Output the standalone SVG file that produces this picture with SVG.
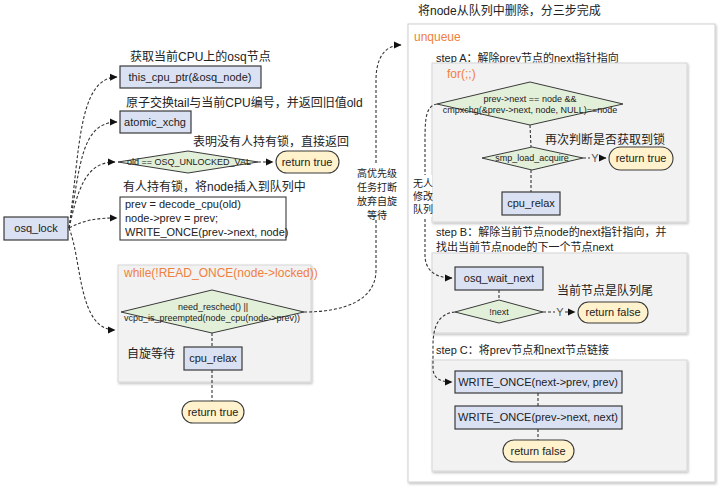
<svg xmlns="http://www.w3.org/2000/svg" width="720" height="488" viewBox="0 0 720 488">
<defs>
<filter id="sh" x="-5%" y="-5%" width="110%" height="110%"><feDropShadow dx="1" dy="1.5" stdDeviation="1" flood-color="#000" flood-opacity="0.25"/></filter>
<marker id="ar" markerWidth="8" markerHeight="8" refX="7" refY="4" orient="auto" markerUnits="userSpaceOnUse"><path d="M0,0.5 L7.5,4 L0,7.5 Z" fill="#111"/></marker>
<style>
text{font-family:"Liberation Sans","Noto Sans CJK SC",sans-serif;fill:#222;}
.box{fill:#dae1f3;stroke:#3a3a3a;stroke-width:1.2;}
.dia{fill:#e2efd9;stroke:#3a3a3a;stroke-width:1;}
.term{fill:#fff2cc;stroke:#3a3a3a;stroke-width:1.1;}
.wbox{fill:#fff;stroke:#3a3a3a;stroke-width:1.1;}
.cont{fill:#f2f2f2;stroke:#d6d6d6;stroke-width:1;}
.outer{fill:#fff;stroke:#cfcfcf;stroke-width:1;}
.t11{font-size:11px;}
.t12{font-size:12px;}
.t9{font-size:9px;}
.t10{font-size:10px;}
.org{fill:#f08040;font-size:12px;}
.c{text-anchor:middle;}
.dl{fill:none;stroke:#333;stroke-width:1.1;stroke-dasharray:3,2;}
.lbl{font-size:11px;fill:#555;}
</style>
</defs>

<text class="t12" x="418" y="15">将node从队列中删除，分三步完成</text>

<g id="unqueue">
<rect class="outer" x="408" y="24" width="307" height="458" filter="url(#sh)"/>
<text class="org" x="414" y="41">unqueue</text>
<text class="t11" x="436" y="62">step A：解除prev节点的next指针指向</text>
<text class="t11" x="436" y="236">step B：解除当前节点node的next指针指向，并</text>
<text class="t11" x="436" y="251">找出当前节点node的下一个节点next</text>
<text class="t11" x="436" y="354">step C：将prev节点和next节点链接</text>
</g>

<g id="forloop">
<rect class="cont" x="432" y="63" width="255" height="159" filter="url(#sh)"/>
<text class="org" x="447" y="78">for(;;)</text>
</g>
<g id="stepB">
<rect class="cont" x="432" y="253" width="255" height="80" filter="url(#sh)"/>
</g>
<g id="stepC">
<rect class="cont" x="432" y="360" width="255" height="111" filter="url(#sh)"/>
</g>
<g id="while">
<rect class="cont" x="118" y="265" width="193" height="117" filter="url(#sh)"/>
<text class="org" x="124" y="277">while(!READ_ONCE(node-&gt;locked))</text>
</g>

<g id="connectors">
<path class="dl" d="M69,228 C80,150 78,78 117,77" marker-end="url(#ar)"/>
<path class="dl" d="M69,228 C80,170 80,122 117,122" marker-end="url(#ar)"/>
<path class="dl" d="M69,228 C78,190 85,162 115,162" marker-end="url(#ar)"/>
<path class="dl" d="M69,228 C85,220 95,218 117,218" marker-end="url(#ar)"/>
<path class="dl" d="M69,228 C82,260 78,330 115,330" marker-end="url(#ar)"/>
<path class="dl" d="M258,162 L273,162" marker-end="url(#ar)"/>
<path class="dl" d="M304,312 C345,312 376,300 376,270 L376,80 C376,58 385,45 401,45" marker-end="url(#ar)"/>
<path class="dl" d="M212,333 L212,347"/>
<path class="dl" d="M212,370 L212,401"/>
<path class="dl" d="M530,125 L531,147"/>
<path class="dl" d="M531,170 L531,192"/>
<path class="dl" d="M583,158 L590,158 M600,158 L606,158" marker-end="url(#ar)"/>
<path class="dl" d="M437,104 C426,106 425,118 425,140 L425,255 C425,270 435,278 452,278" marker-end="url(#ar)"/>
<path class="dl" d="M499,290 L499,300"/>
<path class="dl" d="M543,312 L555,312 M565,312 L575,312" marker-end="url(#ar)"/>
<path class="dl" d="M455,312 C440,313 433,325 433,345 L433,368 C433,378 440,382 452,382" marker-end="url(#ar)"/>
<path class="dl" d="M538,393 L538,406"/>
<path class="dl" d="M538,429 L538,440"/>
<text class="lbl c" x="595" y="162">Y</text>
<text class="lbl c" x="560" y="316">Y</text>
</g>

<g id="label-preempt">
<rect x="356" y="164" width="42" height="56" fill="#fff"/>
<text class="t10 c" x="377" y="177">高优先级</text>
<text class="t10 c" x="377" y="191">任务打断</text>
<text class="t10 c" x="377" y="205">放弃自旋</text>
<text class="t10 c" x="377" y="219">等待</text>
</g>
<g id="label-noone">
<rect x="413" y="175" width="19" height="42" fill="#fff"/>
<text class="t10" x="413" y="187">无人</text>
<text class="t10" x="413" y="200">修改</text>
<text class="t10" x="413" y="213">队列</text>
</g>

<g id="osq_lock">
<rect class="box" x="4" y="217" width="64" height="23"/>
<text class="t11 c" x="36" y="232">osq_lock</text>
</g>
<g id="this_cpu_ptr">
<text class="t12" x="130" y="61">获取当前CPU上的osq节点</text>
<rect class="box" x="120" y="66" width="141" height="22"/>
<text class="t11 c" x="190" y="81">this_cpu_ptr(&amp;osq_node)</text>
</g>
<g id="atomic_xchg">
<text class="t12" x="126" y="107">原子交换tail与当前CPU编号，并返回旧值old</text>
<rect class="box" x="120" y="111" width="71" height="22"/>
<text class="t11 c" x="155" y="126">atomic_xchg</text>
</g>
<g id="unlocked">
<text class="t12" x="193" y="146">表明没有人持有锁，直接返回</text>
<polygon class="dia" points="118,162 188,151 258,162 188,173"/>
<text class="t9 c" x="189" y="165">old == OSQ_UNLOCKED_VAL</text>
</g>
<g id="ret1">
<rect class="term" x="276" y="151" width="63" height="22" rx="11"/>
<text class="t11 c" x="307" y="166">return true</text>
</g>
<g id="insert">
<text class="t12" x="123" y="191">有人持有锁，将node插入到队列中</text>
<rect class="wbox" x="120" y="197" width="166" height="43"/>
<text class="t11" x="125" y="208">prev = decode_cpu(old)</text>
<text class="t11" x="125" y="222">node-&gt;prev = prev;</text>
<text class="t11" x="125" y="236">WRITE_ONCE(prev-&gt;next, node)</text>
</g>
<g id="need_resched">
<polygon class="dia" points="121,312 212,290 304,312 212,333"/>
<text class="t9 c" x="213" y="310">need_resched() ||</text>
<text class="t9 c" x="212" y="321">vcpu_is_preempted(node_cpu(node-&gt;prev))</text>
</g>
<g id="spin">
<text class="t12" x="127" y="358">自旋等待</text>
<rect class="box" x="184" y="347" width="58" height="23"/>
<text class="t11 c" x="213" y="362">cpu_relax</text>
</g>
<g id="ret2">
<rect class="term" x="182" y="401" width="62" height="22" rx="11"/>
<text class="t11 c" x="213" y="416">return true</text>
</g>

<g id="cmpxchg">
<polygon class="dia" points="437,104 530,82 623,104 530,125"/>
<text class="t9 c" x="530" y="102">prev-&gt;next == node &amp;&amp;</text>
<text class="t9 c" x="530" y="113">cmpxchg(&amp;prev-&gt;next, node, NULL)==node</text>
</g>
<g id="smp_load">
<text class="t12" x="545" y="144">再次判断是否获取到锁</text>
<polygon class="dia" points="482,158 532,147 583,158 532,170"/>
<text class="t9 c" x="532" y="161">smp_load_acquire</text>
</g>
<g id="ret3">
<rect class="term" x="609" y="147" width="64" height="23" rx="11.5"/>
<text class="t11 c" x="641" y="162">return true</text>
</g>
<g id="relax2">
<rect class="box" x="502" y="192" width="58" height="23"/>
<text class="t11 c" x="531" y="207">cpu_relax</text>
</g>
<g id="wait_next">
<rect class="box" x="455" y="267" width="88" height="23"/>
<text class="t11 c" x="499" y="282">osq_wait_next</text>
</g>
<g id="not_next">
<text class="t12" x="557" y="295">当前节点是队列尾</text>
<polygon class="dia" points="455,312 499,300 543,312 499,323"/>
<text class="t9 c" x="499" y="315">!next</text>
</g>
<g id="ret4">
<rect class="term" x="578" y="302" width="70" height="21" rx="10.5"/>
<text class="t11 c" x="613" y="316">return false</text>
</g>
<g id="wo1">
<rect class="box" x="455" y="371" width="167" height="22"/>
<text class="t11 c" x="538" y="386">WRITE_ONCE(next-&gt;prev, prev)</text>
</g>
<g id="wo2">
<rect class="box" x="455" y="406" width="167" height="23"/>
<text class="t11 c" x="538" y="421">WRITE_ONCE(prev-&gt;next, next)</text>
</g>
<g id="ret5">
<rect class="term" x="503" y="440" width="71" height="22" rx="11"/>
<text class="t11 c" x="538" y="455">return false</text>
</g>
</svg>
